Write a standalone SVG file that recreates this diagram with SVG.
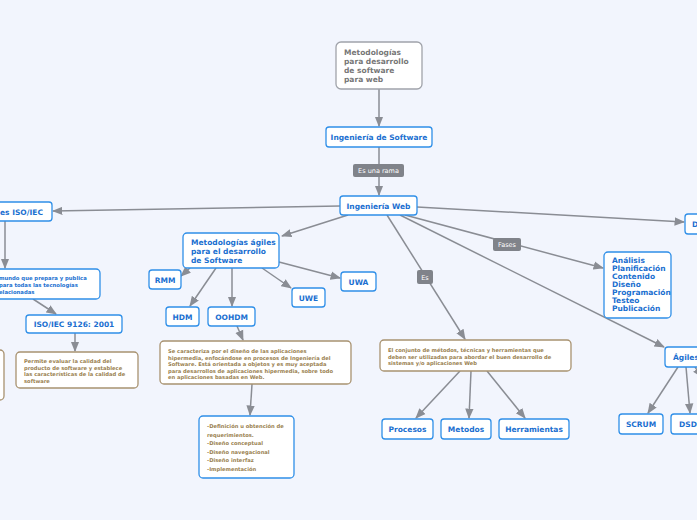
<svg xmlns="http://www.w3.org/2000/svg" width="697" height="520" viewBox="0 0 697 520">
<defs>
<marker id="a" viewBox="0 0 10 10" refX="9" refY="5" markerWidth="7" markerHeight="7" orient="auto"><path d="M0,1 L10,5 L0,9 z" fill="#8a8d94"/></marker>
<style>
.b{fill:#fff;stroke:#2f8fe8;stroke-width:1.3}
.t{fill:#fff;stroke:#a89270;stroke-width:1.3}
.bt{font-family:"DejaVu Sans",sans-serif;font-size:7.5px;font-weight:bold;fill:#1a6fd0}
.sm{font-size:5.3px}
.tt{font-family:"DejaVu Sans",sans-serif;font-size:5.2px;font-weight:bold;fill:#9a7f50}
.lb{fill:#80838a}
.lt{font-family:"DejaVu Sans",sans-serif;font-size:6.5px;fill:#fff}
line{stroke:#8a8d94;stroke-width:1.5;marker-end:url(#a)}
</style>
</defs>
<rect width="697" height="520" fill="#f2f5fd"/>
<g id="connectors">
<line x1="379" y1="89" x2="379" y2="126"/>
<line x1="379" y1="147" x2="379" y2="195"/>
<line x1="340" y1="206" x2="53" y2="211"/>
<line x1="417" y1="207" x2="684" y2="222"/>
<line x1="348" y1="215" x2="282" y2="236"/>
<line x1="387" y1="215" x2="465" y2="339"/>
<line x1="405" y1="215" x2="603" y2="268"/>
<line x1="400" y1="215" x2="664" y2="347"/>
<line x1="5" y1="221" x2="5" y2="268"/>
<line x1="33" y1="299" x2="56" y2="314"/>
<line x1="75" y1="333" x2="75" y2="351"/>
<line x1="190" y1="268" x2="181" y2="276"/>
<line x1="216" y1="268" x2="190" y2="306"/>
<line x1="232" y1="268" x2="232" y2="306"/>
<line x1="262" y1="268" x2="291" y2="288"/>
<line x1="279" y1="262" x2="340" y2="278"/>
<line x1="237" y1="326" x2="243" y2="340"/>
<line x1="252" y1="384" x2="250" y2="415"/>
<line x1="460" y1="371" x2="416" y2="418"/>
<line x1="471" y1="371" x2="469" y2="418"/>
<line x1="487" y1="371" x2="525" y2="418"/>
<line x1="678" y1="367" x2="648" y2="413"/>
<line x1="686" y1="367" x2="690" y2="413"/>
<line x1="695" y1="367" x2="702" y2="377"/>
</g>
<g id="lbl1"><rect class="lb" x="353" y="164" width="51" height="13" rx="2"/><text class="lt" x="378.5" y="173" text-anchor="middle">Es una rama</text></g>
<g id="lbl2"><rect class="lb" x="417" y="270" width="16" height="14" rx="2"/><text class="lt" x="425" y="279.5" text-anchor="middle">Es</text></g>
<g id="lbl3"><rect class="lb" x="493" y="238" width="28" height="13" rx="2"/><text class="lt" x="507" y="247" text-anchor="middle">Fases</text></g>
<g id="root"><rect x="336" y="42" width="86" height="47" rx="5" fill="#fff" stroke="#a0a3aa" stroke-width="1.3"/>
<text font-family="DejaVu Sans,sans-serif" font-size="7.5" font-weight="bold" fill="#777"><tspan x="344" y="55">Metodologías</tspan><tspan x="344" y="64">para desarrollo</tspan><tspan x="344" y="73">de software</tspan><tspan x="344" y="82">para web</tspan></text></g>
<g id="isw"><rect class="b" x="326" y="127" width="106" height="20" rx="3"/><text class="bt" x="379" y="140" text-anchor="middle">Ingeniería de Software</text></g>
<g id="iw"><rect class="b" x="340" y="196" width="77" height="19" rx="3"/><text class="bt" x="378.5" y="208.5" text-anchor="middle">Ingeniería Web</text></g>
<g id="iso"><rect class="b" x="-10" y="202" width="62" height="19" rx="3"/><text class="bt" x="0" y="214.5">es ISO/IEC</text></g>
<g id="mundo"><rect class="b" x="-10" y="269" width="110" height="30" rx="4"/><text class="bt sm"><tspan x="-1" y="280">mundo que prepara y publica</tspan><tspan x="-1" y="287">para todas las tecnologías</tspan><tspan x="-1" y="294">elacionadas</tspan></text></g>
<g id="iso9126"><rect class="b" x="26" y="315" width="96" height="18" rx="3"/><text class="bt" x="74" y="327" text-anchor="middle">ISO/IEC 9126: 2001</text></g>
<g id="permite"><rect class="t" x="16" y="352" width="122" height="36" rx="4"/><text class="tt"><tspan x="24" y="363">Permite evaluar la calidad del</tspan><tspan x="24" y="369.5">producto de software y establece</tspan><tspan x="24" y="376">las características de la calidad de</tspan><tspan x="24" y="382.5">software</tspan></text></g>
<g id="leftt"><rect class="t" x="-10" y="350" width="14" height="50" rx="4"/></g>
<g id="ma"><rect class="b" x="183" y="233" width="96" height="35" rx="4"/><text class="bt"><tspan x="191" y="245">Metodologías ágiles</tspan><tspan x="191" y="254">para el desarrollo</tspan><tspan x="191" y="263">de Software</tspan></text></g>
<g id="rmm"><rect class="b" x="149" y="270" width="32" height="19" rx="3"/><text class="bt" x="165" y="282.5" text-anchor="middle">RMM</text></g>
<g id="hdm"><rect class="b" x="166" y="307" width="33" height="19" rx="3"/><text class="bt" x="182.5" y="319.5" text-anchor="middle">HDM</text></g>
<g id="oohdm"><rect class="b" x="208" y="307" width="47" height="19" rx="3"/><text class="bt" x="231.5" y="319.5" text-anchor="middle">OOHDM</text></g>
<g id="uwe"><rect class="b" x="292" y="288" width="33" height="19" rx="3"/><text class="bt" x="308.5" y="300.5" text-anchor="middle">UWE</text></g>
<g id="uwa"><rect class="b" x="341" y="272" width="35" height="19" rx="3"/><text class="bt" x="358.5" y="284.5" text-anchor="middle">UWA</text></g>
<g id="oodesc"><rect class="t" x="160" y="341" width="191" height="43" rx="4"/><text class="tt"><tspan x="168" y="353">Se caracteriza por el diseño de las aplicaciones</tspan><tspan x="168" y="359.5">hipermedia, enfocándose en procesos de Ingeniería del</tspan><tspan x="168" y="366">Software. Está orientada a objetos y es muy aceptada</tspan><tspan x="168" y="372.5">para desarrollos de aplicaciones hipermedia, sobre todo</tspan><tspan x="168" y="379">en aplicaciones basadas en Web.</tspan></text></g>
<g id="list"><rect class="b" x="199" y="416" width="95" height="62" rx="4"/><text class="tt"><tspan x="207" y="428">-Definición u obtención de</tspan><tspan x="207" y="437">requerimientos.</tspan><tspan x="207" y="445">-Diseño conceptual</tspan><tspan x="207" y="454">-Diseño navegacional</tspan><tspan x="207" y="462">-Diseño interfaz</tspan><tspan x="207" y="471">-Implementación</tspan></text></g>
<g id="conj"><rect class="t" x="380" y="340" width="191" height="31" rx="4"/><text class="tt"><tspan x="388" y="352">El conjunto de métodos, técnicas y herramientas que</tspan><tspan x="388" y="358.5">deben ser utilizadas para abordar el buen desarrollo de</tspan><tspan x="388" y="365">sistemas y/o aplicaciones Web</tspan></text></g>
<g id="proc"><rect class="b" x="382" y="419" width="51" height="20" rx="3"/><text class="bt" x="407.5" y="432" text-anchor="middle">Procesos</text></g>
<g id="met"><rect class="b" x="441" y="419" width="50" height="20" rx="3"/><text class="bt" x="466" y="432" text-anchor="middle">Metodos</text></g>
<g id="herr"><rect class="b" x="499" y="419" width="70" height="20" rx="3"/><text class="bt" x="534" y="432" text-anchor="middle">Herramientas</text></g>
<g id="fases"><rect class="b" x="604" y="252" width="67" height="66" rx="4"/><text class="bt"><tspan x="612" y="263">Análisis</tspan><tspan x="612" y="271">Planificación</tspan><tspan x="612" y="279">Contenido</tspan><tspan x="612" y="287">Diseño</tspan><tspan x="612" y="295">Programación</tspan><tspan x="612" y="303">Testeo</tspan><tspan x="612" y="311">Publicación</tspan></text></g>
<g id="d"><rect class="b" x="685" y="214" width="30" height="20" rx="3"/><text class="bt" x="692" y="227">D</text></g>
<g id="agiles"><rect class="b" x="665" y="347" width="50" height="20" rx="3"/><text class="bt" x="673" y="360">Ágiles</text></g>
<g id="scrum"><rect class="b" x="619" y="414" width="44" height="20" rx="3"/><text class="bt" x="641" y="427" text-anchor="middle">SCRUM</text></g>
<g id="dsdm"><rect class="b" x="671" y="414" width="40" height="20" rx="3"/><text class="bt" x="679" y="427">DSDM</text></g>
</svg>
